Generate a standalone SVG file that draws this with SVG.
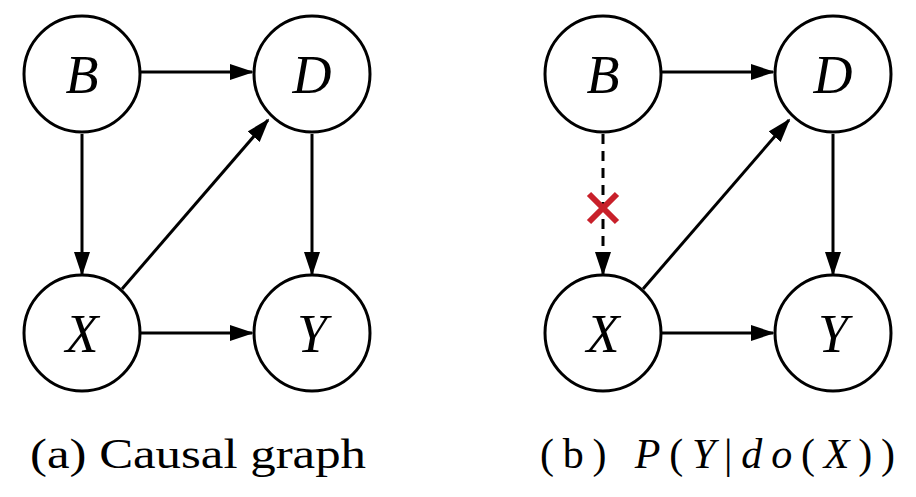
<svg xmlns="http://www.w3.org/2000/svg" width="916" height="497" viewBox="0 0 916 497">
<style>
.n{fill:#fff;stroke:#000;stroke-width:3}
.l{font-family:"Liberation Serif","Times New Roman","DejaVu Serif",serif;font-style:italic;font-size:54px;text-anchor:middle}
.e{stroke:#000;stroke-width:3;fill:none;marker-end:url(#b)}
.c{font-family:"Liberation Serif","Times New Roman","DejaVu Serif",serif;font-size:42px}
</style>
<defs>
<marker id="b" viewBox="0 0 24 16" refX="22" refY="8" markerWidth="24" markerHeight="16" orient="auto" markerUnits="userSpaceOnUse"><path d="M0,0L24,8L0,16z"/></marker></defs>
<rect width="916" height="497" fill="#fff"/>
<g id="edges">
<line x1="141" y1="72" x2="252" y2="72" class="e"/>
<line x1="82" y1="134" x2="82" y2="274" class="e"/>
<line x1="122" y1="289" x2="268" y2="120" class="e"/>
<line x1="312" y1="134" x2="312" y2="274" class="e"/>
<line x1="141" y1="333" x2="252" y2="333" class="e"/>
<line x1="662" y1="72" x2="773" y2="72" class="e"/>
<line x1="603" y1="134" x2="603" y2="274" class="e" stroke-dasharray="10,7"/>
<line x1="643" y1="289" x2="789" y2="120" class="e"/>
<line x1="833" y1="134" x2="833" y2="274" class="e"/>
<line x1="662" y1="333" x2="773" y2="333" class="e"/>
<path d="M589,194L617,222M617,194L589,222" stroke="#c8202a" stroke-width="6"/>
</g>
<g id="B1"><circle cx="82" cy="74" r="58" class="n"/><text x="82" y="93" class="l">B</text></g>
<g id="D1"><circle cx="312" cy="74" r="58" class="n"/><text x="312" y="93" class="l">D</text></g>
<g id="X1"><circle cx="82" cy="333" r="58" class="n"/><text x="82" y="352" class="l">X</text></g>
<g id="Y1"><circle cx="312" cy="333" r="58" class="n"/><text x="312" y="352" class="l">Y</text></g>
<g id="B2"><circle cx="603" cy="74" r="58" class="n"/><text x="603" y="93" class="l">B</text></g>
<g id="D2"><circle cx="833" cy="74" r="58" class="n"/><text x="833" y="93" class="l">D</text></g>
<g id="X2"><circle cx="603" cy="333" r="58" class="n"/><text x="603" y="352" class="l">X</text></g>
<g id="Y2"><circle cx="833" cy="333" r="58" class="n"/><text x="833" y="352" class="l">Y</text></g>
<text x="30" y="468" class="c" textLength="336" lengthAdjust="spacingAndGlyphs">(a) Causal graph</text>
<text x="540" y="468" class="c" textLength="355" lengthAdjust="spacing">(b) <tspan font-style="italic">P</tspan>(<tspan font-style="italic">Y</tspan>|<tspan font-style="italic">do</tspan>(<tspan font-style="italic">X</tspan>))</text>
</svg>
